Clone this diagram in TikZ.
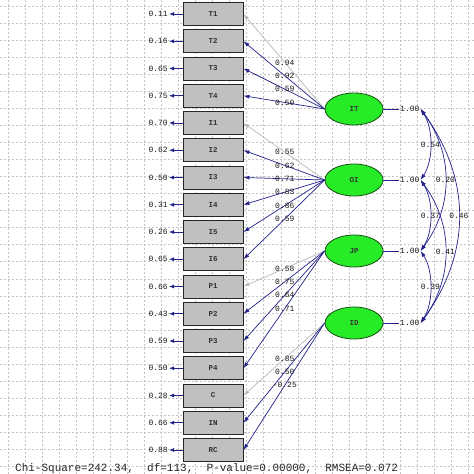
\documentclass[tikz,border=0pt]{standalone}
\usepackage{fontspec}
\setmonofont{Liberation Mono}
\usetikzlibrary{shapes.geometric,arrows.meta}
\definecolor{navyc}{RGB}{35,35,140}
\definecolor{fixgray}{RGB}{185,185,185}
\definecolor{boxgray}{RGB}{192,192,192}
\definecolor{latgreen}{RGB}{40,235,40}
\definecolor{darkgreen}{RGB}{20,80,20}
\definecolor{gridc}{RGB}{195,195,195}
\begin{document}
\begin{tikzpicture}[x=1pt,y=-1pt,
  obs/.style={draw=black!85, fill=boxgray, line width=0.9pt, minimum width=60pt, minimum height=23pt, inner sep=0pt, font=\ttfamily\bfseries\fontsize{7.5}{8}\selectfont, text=black!80},
  lat/.style={ellipse, draw=darkgreen, fill=latgreen, line width=0.8pt, minimum width=58pt, minimum height=32pt, inner sep=0pt, font=\ttfamily\bfseries\fontsize{7.5}{8}\selectfont, text=black!80},
  lbl/.style={font=\ttfamily\fontsize{8}{9}\selectfont, text=black!90, inner sep=1pt},
  load/.style={draw=navyc, line width=0.7pt, -{Latex[length=6pt,width=4pt]}},
  fixload/.style={draw=fixgray, line width=0.7pt, -{Latex[length=6pt,width=4pt]}},
  errarrow/.style={draw=navyc, line width=0.8pt, -{Latex[length=5pt,width=4pt]}},
  varline/.style={draw=navyc, line width=0.8pt},
  corr/.style={draw=navyc, line width=0.7pt, {Latex[length=6pt,width=4pt]}-{Latex[length=6pt,width=4pt]}},
  gridl/.style={draw=gridc, line width=0.6pt, dash pattern=on 2pt off 2pt}
]
\useasboundingbox (0,0) rectangle (474,474);
\fill[white] (0,0) rectangle (474,474);
% grid
\foreach \k in {0,...,27} {
  \draw[gridl] (8+17.05*\k,0) -- (8+17.05*\k,474);
  \draw[gridl] (0,6+17.05*\k) -- (474,6+17.05*\k);
}
% observed variables with error variances
\foreach \n/\i/\e in {T1/0/0.11, T2/1/0.16, T3/2/0.65, T4/3/0.75, I1/4/0.70, I2/5/0.62, I3/6/0.50, I4/7/0.31, I5/8/0.26, I6/9/0.65, P1/10/0.66, P2/11/0.43, P3/12/0.59, P4/13/0.50, C/14/0.28, IN/15/0.66, RC/16/0.88} {
  \node[obs] (\n) at (213,14+27.25*\i) {\n};
  \node[lbl, anchor=east] (e\n) at (169,14+27.25*\i) {\e};
  \draw[errarrow] (\n.west) -- (e\n.east);
}
% latent variables
\foreach \l/\y in {IT/109, OI/180, JP/251, ID/323} {
  \node[lat] (\l) at (354,\y) {\l};
  \node[lbl, anchor=west] (v\l) at (399,\y) {1.00};
  \draw[varline] (\l.east) -- (v\l.west);
}
% loadings
\foreach \l/\b/\v/\s in {IT/T1/0.94/fixload, IT/T2/0.92/load, IT/T3/0.59/load, IT/T4/0.50/load,
  OI/I1/0.55/fixload, OI/I2/0.62/load, OI/I3/0.71/load, OI/I4/0.83/load, OI/I5/0.86/load, OI/I6/0.59/load,
  JP/P1/0.58/fixload, JP/P2/0.75/load, JP/P3/0.64/load, JP/P4/0.71/load,
  ID/C/0.85/fixload, ID/IN/0.50/load, ID/RC/-0.25/load} {
  \draw[\s] (\l.west) -- (\b.east) node[lbl, pos=0.49] {\v};
}
% correlations
\draw[corr] (vIT.east) .. controls +(13,20) and +(13,-20) .. (vOI.east) node[lbl, midway] {0.54};
\draw[corr] (vOI.east) .. controls +(13,20) and +(13,-20) .. (vJP.east) node[lbl, midway] {0.37};
\draw[corr] (vJP.east) .. controls +(13,20) and +(13,-20) .. (vID.east) node[lbl, midway] {0.39};
\draw[corr] (vIT.east) .. controls +(33,45) and +(33,-45) .. (vJP.east) node[lbl, midway] {0.20};
\draw[corr] (vOI.east) .. controls +(33,45) and +(33,-45) .. (vID.east) node[lbl, midway] {0.41};
\draw[corr] (vIT.east) .. controls +(51,70) and +(51,-70) .. (vID.east) node[lbl, midway] {0.46};
% fit statistics
\node[anchor=base west, font=\ttfamily\fontsize{11}{12}\selectfont, text=black!85, inner sep=0pt] (fit) at (15,471.5) {Chi-Square=242.34,~~df=113,~~P-value=0.00000,~~RMSEA=0.072};
\end{tikzpicture}
\end{document}
